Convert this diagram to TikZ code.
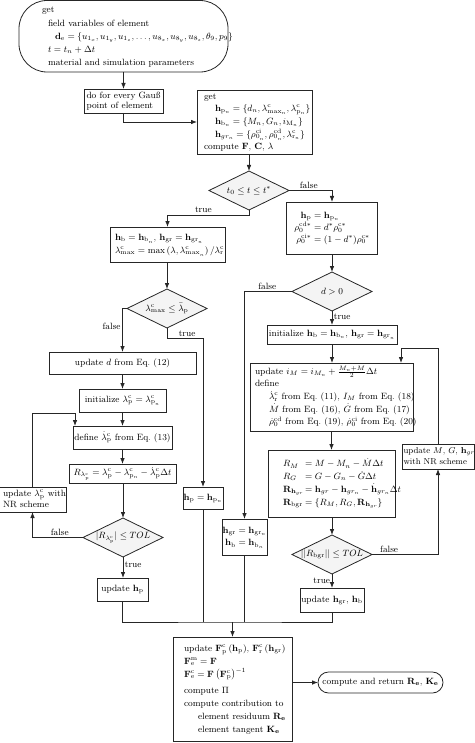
\RequirePackage{fix-cm}
\documentclass[tikz,border=0pt]{standalone}
\usepackage{amsmath}
\usetikzlibrary{arrows.meta,shapes.geometric}
\newcommand{\lblk}[3]{\makebox[#1][l]{\hspace*{#2}\begin{tabular}{@{}l@{}}#3\end{tabular}}}
\newcommand{\dtx}[1]{\makebox[20pt]{#1}}
\newcommand{\bh}{\mathbf{h}}
\newcommand{\rc}{\mathrm{c}}
\begin{document}
\begin{tikzpicture}[x=1pt,y=-1pt,
  every node/.style={font=\fontsize{9.1}{12.7}\selectfont, text=black},
  base/.style={draw=black!85, line width=0.8pt, inner sep=0pt, outer sep=0pt},
  box/.style={base, rectangle},
  sz/.style 2 args={minimum width=#1, minimum height=#2},
  term/.style={base, rectangle, rounded corners=#1},
  dec/.style={base, diamond, aspect=2, fill=gray!9, minimum width=80pt, minimum height=39pt},
  arr/.style={draw=black!85, line width=0.8pt, -{Latex[length=6pt,width=4.6pt]}},
  ln/.style={draw=black!85, line width=0.8pt},
  lab/.style={inner sep=1.5pt}
]
\useasboundingbox (0,0) rectangle (474,743);

% ---------- top part ----------
\node[term=28pt, sz={209pt}{71.5pt}] (top) at (123.5,36.25) {\lblk{209pt}{23pt}{get\\[1.5pt]
  \hspace*{6pt}field variables of element\\
  \hspace*{13pt}$\mathbf{d}_{\mathrm e}=\{u_{1_x},u_{1_y},u_{1_z},\ldots,u_{8_x},u_{8_y},u_{8_z},\theta_9,p_9\}$\\[0.5pt]
  \hspace*{6pt}$t=t_n+\Delta t$\\[0.5pt]
  \hspace*{6pt}material and simulation parameters}};

\node[box, sz={79pt}{24pt}] (gauss) at (123.5,101) {\begin{tabular}{@{}l@{}}do for every Gauß\\[-2.5pt]point of element\end{tabular}};

\node[box, sz={115pt}{64pt}] (get) at (254.5,122) {\lblk{115pt}{7pt}{get\\
  \hspace*{11pt}$\bh_{\mathrm p_n}=\{d_n,\lambda^{\rc}_{\mathrm{max}_n},\lambda^{\rc}_{\mathrm p_n}\}$\\
  \hspace*{11pt}$\bh_{\mathrm b_n}=\{M_n,G_n,i_{\mathrm{M}_n}\}$\\
  \hspace*{11pt}$\bh_{gr_n}=\{\rho^{\mathrm{ci}}_{0_n},\rho^{\mathrm{cd}}_{0_n},\lambda^{\rc}_{\mathrm r_n}\}$\\
  compute $\mathbf F$, $\mathbf C$, $\lambda$}};

\node[dec] (d1) at (249,190.5) {\dtx{$t_0\le t\le t^*$}};

% ---------- right branch ----------
\node[box, sz={91pt}{52pt}] (cst) at (332,228) {\begin{tabular}{@{}r@{}l@{}}
  $\bh_{\mathrm p}$ & ${}=\bh_{\mathrm p_n}$\\[-1pt]
  $\rho_0^{\mathrm{cd}*}$ & ${}=d^*\rho_0^{\rc*}$\\[-1pt]
  $\rho_0^{\mathrm{ci}*}$ & ${}=(1-d^*)\rho_0^{\rc*}$\end{tabular}};

\node[dec] (d2) at (332,291.5) {\dtx{$d>0$}};

\node[box, sz={130pt}{19pt}] (initr) at (332,334.5) {initialize $\bh_{\mathrm b}=\bh_{\mathrm b_n}$, $\bh_{\mathrm{gr}}=\bh_{\mathrm{gr}_n}$};

\node[box, sz={163pt}{68pt}] (upd) at (331.5,397) {\lblk{163pt}{5pt}{update $i_M=i_{M_n}+\frac{M_n+M}{2}\Delta t$\\
  define\\
  \hspace*{14pt}$\dot\lambda^{\rc}_{\mathrm r}$ from Eq.~(11), $I_M$ from Eq.~(18)\\
  \hspace*{14pt}$\dot M$ from Eq.~(16), $\dot G$ from Eq.~(17)\\
  \hspace*{14pt}$\dot\rho^{\mathrm{cd}}_0$ from Eq.~(19), $\dot\rho^{\mathrm{ci}}_0$ from Eq.~(20)}};

\node[box, sz={127pt}{67pt}] (res) at (331.5,483.5) {\makebox[127pt][l]{\hspace*{15pt}\begin{tabular}{@{}l@{\,}l@{}}
  $R_M$ & $=M-M_n-\dot M\Delta t$\\
  $R_G$ & $=G-G_n-\dot G\Delta t$\\
  $\mathbf R_{\bh_{gr}}$ & $=\bh_{gr}-\bh_{gr_n}-\dot\bh_{gr_n}\Delta t$\\
  $\mathbf R_{\mathrm{bgr}}$ & $=\{R_M,R_G,\mathbf R_{\bh_{gr}}\}$\end{tabular}}};

\node[box, sz={72pt}{25pt}, font=\fontsize{8.6}{12}\selectfont] (nrr) at (438,456.5) {\lblk{72pt}{1.5pt}{update $M$, $G$, $\bh_{gr}$\\[-1pt]with NR scheme}};

\node[dec] (d3) at (332,554.5) {\dtx{$||R_{\mathrm{bgr}}||\le TOL$}};

\node[box, sz={64pt}{24pt}] (hupd) at (332,600) {update $\bh_{\mathrm{gr}}$, $\bh_{\mathrm b}$};

\node[box, sz={45pt}{36pt}] (hgr) at (244.5,537) {\begin{tabular}{@{}r@{}l@{}}
  $\bh_{\mathrm{gr}}$ & ${}=\bh_{\mathrm{gr}_n}$\\
  $\bh_{\mathrm b}$ & ${}=\bh_{\mathrm b_n}$\end{tabular}};

% ---------- left branch ----------
\node[box, sz={115pt}{35pt}] (hb) at (167.5,244.5) {\lblk{115pt}{5pt}{$\bh_{\mathrm b}=\bh_{\mathrm b_n}$, $\bh_{\mathrm{gr}}=\bh_{\mathrm{gr}_n}$\\
  $\lambda^{\rc}_{\max}=\max\left(\lambda,\lambda^{\rc}_{\mathrm{max}_n}\right)/\lambda^{\rc}_{\mathrm r}$}};

\node[dec] (d4) at (167,308.5) {\dtx{$\lambda^{\rc}_{\max}\le\bar\lambda_{\mathrm p}$}};

\node[box, sz={40pt}{22pt}] (hp) at (203,498) {$\bh_{\mathrm p}=\bh_{\mathrm p_n}$};

\node[box, sz={147pt}{22pt}] (updd) at (122.5,363) {update $d$ from Eq.~(12)};
\node[box, sz={87pt}{23pt}] (initl) at (122.5,400.5) {initialize $\lambda^{\rc}_{\mathrm p}=\lambda^{\rc}_{\mathrm p_n}$};
\node[box, sz={99pt}{23pt}] (def) at (122.5,437.5) {define $\dot\lambda^{\rc}_{\mathrm p}$ from Eq.~(13)};
\node[box, sz={107pt}{19pt}] (rl) at (122.5,473.5) {$R_{\lambda^{\rc}_{\mathrm p}}=\lambda^{\rc}_{\mathrm p}-\lambda^{\rc}_{\mathrm p_n}-\dot\lambda^{\rc}_{\mathrm p}\Delta t$};
\node[box, sz={67pt}{25pt}] (nrl) at (32.5,499.5) {\lblk{67pt}{4pt}{update $\lambda^{\rc}_{\mathrm p}$ with\\[-2pt]NR scheme}};
\node[dec] (d5) at (123,537.5) {\dtx{$|R_{\lambda^{\rc}_{\mathrm p}}|\le TOL$}};
\node[box, sz={51pt}{23pt}] (hupdp) at (122.5,589.5) {update $\bh_{\mathrm p}$};

% ---------- bottom ----------
\node[box, sz={119pt}{104.5pt}] (fin) at (232.5,689.25) {\lblk{119pt}{11pt}{update $\mathbf F^{\rc}_{\mathrm p}\left(\bh_{\mathrm p}\right)$, $\mathbf F^{\rc}_{\mathrm r}\left(\bh_{\mathrm{gr}}\right)$\\
  $\mathbf F^{\mathrm m}_{\mathrm e}=\mathbf F$\\
  $\mathbf F^{\rc}_{\mathrm e}=\mathbf F\left(\mathbf F^{\rc}_{\mathrm p}\right)^{-1}$\\[4pt]
  compute $\Pi$\\
  compute contribution to\\
  \hspace*{14pt}element residuum $\mathbf R_{\mathbf e}$\\
  \hspace*{14pt}element tangent $\mathbf K_{\mathbf e}$}};

\node[term=10.5pt, sz={125pt}{21pt}] (ret) at (380.5,682.5) {compute and return $\mathbf R_{\mathbf e}$, $\mathbf K_{\mathbf e}$};

% ---------- coordinates ----------
\coordinate (lpR) at (401,348);
\coordinate (lpL) at (75,413);
\coordinate (mg) at (232.5,622);

% ---------- connectors ----------
\draw[arr] (top.south) -- (gauss.north);
\draw[arr] (gauss.south) |- (get.west);
\draw[arr] (get.south -| d1.north) -- (d1.north);
\draw[arr] (d1.east) -| node[lab, pos=0.23, above] {false} (cst.north);
\draw[arr] (d1.south) -- ++(0,5) -| node[lab, pos=0.28, above] {true} (hb.north);

\draw[arr] (cst.south) -- (d2.north);
\draw[arr] (d2.west) -| node[lab, pos=0.26, above] {false} (hgr.north);
\draw[arr] (d2.south) -- node[lab, pos=0.43, right] {true} (initr.north);
\draw[arr] (initr.south) -- (upd.north -| initr.south);
\draw[arr] (upd.south -| res.north) -- (res.north);
\draw[arr] (res.south -| d3.north) -- (d3.north);
\draw[arr] (d3.south) -- node[lab, pos=0.5, left] {true} (hupd.north);
\draw[arr] (d3.east) -| node[lab, pos=0.13, above] {false} (nrr.south);
\draw[arr] (nrr.north) |- (lpR) -- (lpR |- upd.north);

\draw[arr] (hb.south -| d4.north) -- (d4.north);
\draw[arr] (d4.west) -| node[lab, pos=0.71, left] {false} (updd.north);
\draw[arr] (d4.south) -- ++(0,10) -| node[lab, pos=0.28, above] {true} (hp.north);
\draw[arr] (updd.south) -- (initl.north);
\draw[arr] (initl.south) -- (def.north);
\draw[arr] (def.south) -- (rl.north);
\draw[arr] (rl.south -| d5.north) -- (d5.north);
\draw[arr] (d5.west) -| node[lab, pos=0.23, above] {false} (nrl.south);
\draw[arr] (nrl.north) |- (lpL) -- (lpL |- def.north);
\draw[arr] (d5.south) -- node[lab, pos=0.38, right] {true} (hupdp.north -| d5.south);

\draw[ln] (hupdp.south) |- (mg) -| (hupd.south);
\draw[ln] (hp.south) -- (hp.south |- mg);
\draw[ln] (hgr.south) -- (hgr.south |- mg);
\draw[arr] (mg) -- (fin.north);
\draw[arr] (fin.east |- ret.west) -- (ret.west);
\end{tikzpicture}
\end{document}
